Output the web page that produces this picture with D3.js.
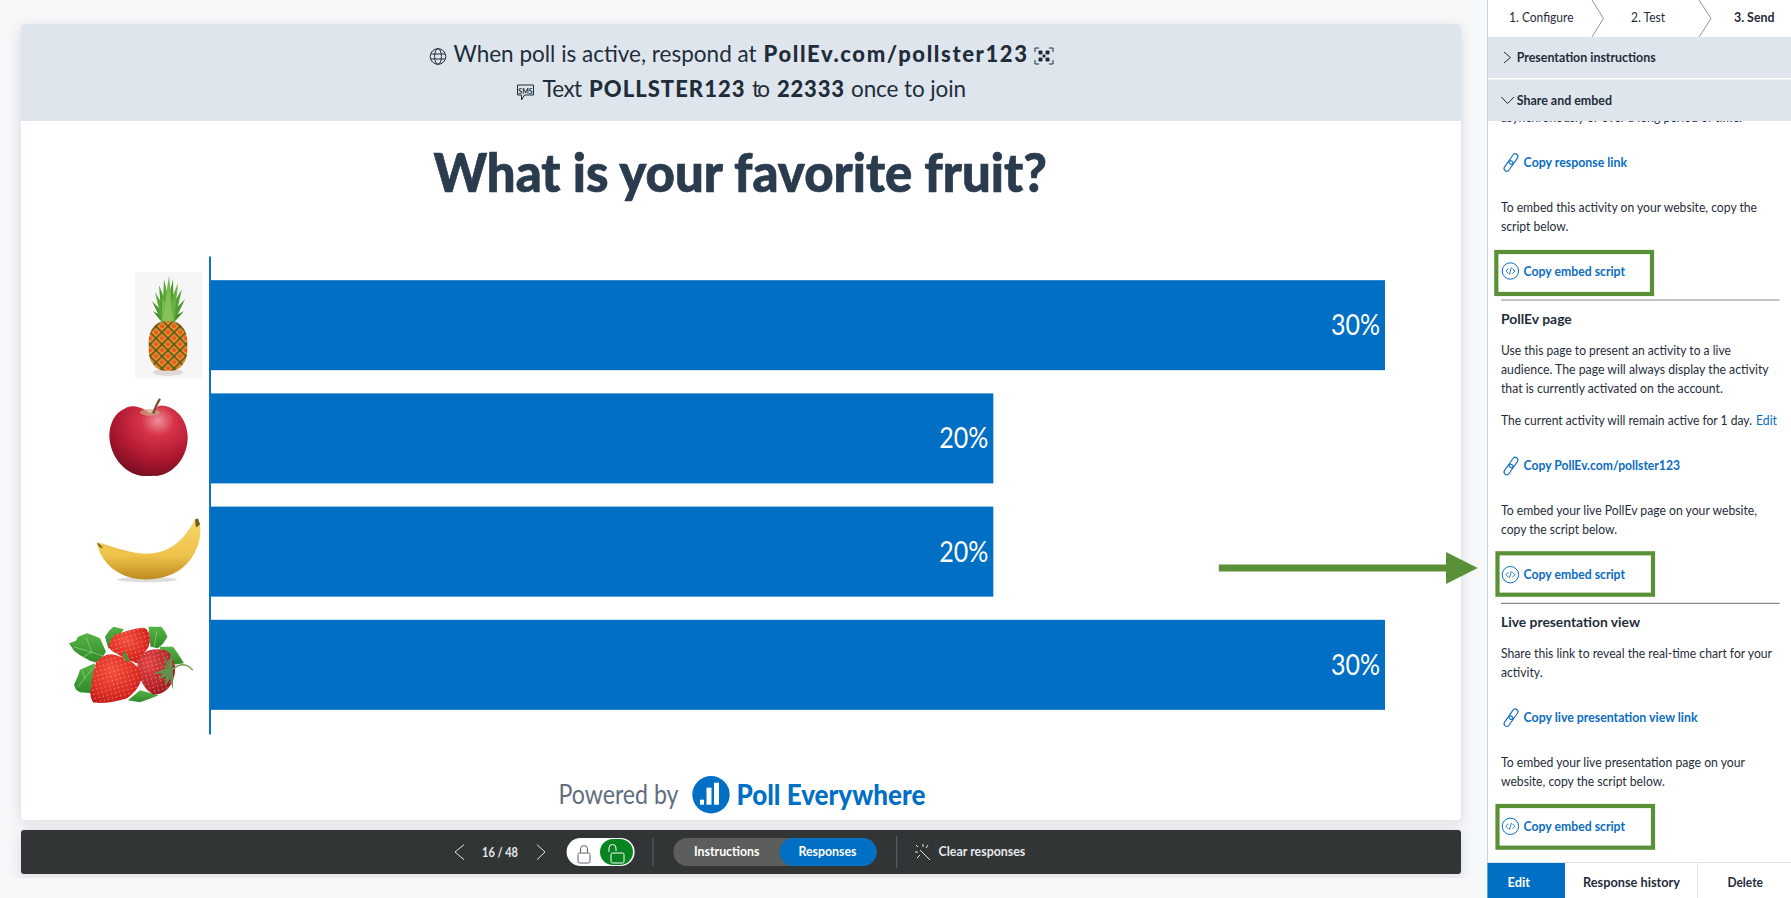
<!DOCTYPE html>
<html>
<head>
<meta charset="utf-8">
<title>What is your favorite fruit?</title>
<script src="https://cdn.jsdelivr.net/npm/d3@7/dist/d3.min.js"></script>
<style>
html,body{margin:0;padding:0;background:#f7f8fa;overflow:hidden}
svg{display:block}
text{font-family:Lato,"Noto Sans",sans-serif}
</style>
</head>
<body>
<div id="chart"></div>
<script>
const categories = ["Pineapple", "Apple", "Banana", "Strawberry"];
const values = [30, 20, 20, 30];
const valueLabels = ["30%", "20%", "20%", "30%"];
const question = "What is your favorite fruit?";

const BLUE = "#006fc4", GREEN = "#5a9136", INK = "#1f2d3b", PANEL = "#dee5ec", LINK = "#0a6dc2";

const svg = d3.select("#chart").append("svg").attr("width", 1791).attr("height", 898).attr("viewBox", "0 0 1791 898");
const defs = svg.append("defs");

const shadow = defs.append("filter").attr("id", "shadow").attr("x", "-3%").attr("y", "-5%").attr("width", "106%").attr("height", "112%");
shadow.append("feDropShadow").attr("dx", 0).attr("dy", 4).attr("stdDeviation", 7).attr("flood-color", "#2a3b4e").attr("flood-opacity", 0.13);

function grad(id, stops, r) {
  const g = r ? defs.append("radialGradient").attr("id", id).attr("cx", r[0]).attr("cy", r[1]).attr("r", r[2])
              : defs.append("linearGradient").attr("id", id).attr("x1", 0).attr("y1", 0).attr("x2", 0).attr("y2", 1);
  stops.forEach(s => g.append("stop").attr("offset", s[0]).attr("stop-color", s[1]));
}
grad("appleG", [[0, "#ee8f9a"], [0.25, "#d63348"], [0.65, "#ad1730"], [1, "#6e0c1f"]], [0.62, 0.22, 0.85]);
grad("bananaG", [[0, "#f5d766"], [0.6, "#eec24b"], [1, "#bd8a20"]]);
grad("berryG", [[0, "#f4503f"], [0.6, "#dd2a26"], [1, "#b2161c"]], [0.42, 0.35, 0.8]);
grad("berryD", [[0, "#e2454a"], [0.6, "#b8232c"], [1, "#8c1420"]], [0.3, 0.3, 0.9]);
grad("leafG", [[0, "#57b345"], [1, "#2f8a2a"]]);

const pine = defs.append("pattern").attr("id", "pinePat").attr("width", 8.5).attr("height", 8.5).attr("patternUnits", "userSpaceOnUse").attr("patternTransform", "rotate(45)");
pine.append("rect").attr("width", 8.5).attr("height", 8.5).attr("fill", "#ec8a24");
pine.append("rect").attr("width", 1.5).attr("height", 8.5).attr("fill", "#4f5a1e");
pine.append("rect").attr("width", 8.5).attr("height", 1.5).attr("fill", "#4f5a1e");
pine.append("circle").attr("cx", 5).attr("cy", 5).attr("r", 1.9).attr("fill", "#e2552a");

const seeds = defs.append("pattern").attr("id", "seeds").attr("width", 6).attr("height", 6).attr("patternUnits", "userSpaceOnUse").attr("patternTransform", "rotate(30)");
seeds.append("circle").attr("cx", 1.5).attr("cy", 1.5).attr("r", 0.65).attr("fill", "#f2c46a");
seeds.append("circle").attr("cx", 4.5).attr("cy", 4.5).attr("r", 0.65).attr("fill", "#f2c46a");

function T(x0, x1, y, str, o = {}) {
  return (o.g || svg).append("text").attr("x", x0).attr("y", y)
    .attr("textLength", x1 - x0).attr("lengthAdjust", o.adjust || "spacingAndGlyphs")
    .attr("font-size", o.size || 13).attr("font-weight", o.weight || 400)
    .attr("fill", o.fill || INK).text(str);
}
function chevron(pts, c = INK, w = 1) {
  svg.append("polyline").attr("points", pts.map(p => p.join(",")).join(" "))
    .attr("fill", "none").attr("stroke", c).attr("stroke-width", w);
}

/* ---------- card ---------- */
svg.append("rect").attr("x", 21).attr("y", 24).attr("width", 1440).attr("height", 796).attr("rx", 4).attr("fill", "#fff").attr("filter", "url(#shadow)");
svg.append("path").attr("d", "M21,121V28a4,4 0 0 1 4,-4H1457a4,4 0 0 1 4,4V121Z").attr("fill", PANEL);

/* header lines */
const H = {size: 22.5, adjust: "spacing"}, HB = {size: 22, weight: 900, adjust: "spacing"};
T(453.5, 756.6, 62, "When poll is active, respond at", H);
T(763.5, 1027, 62, "PollEv.com/pollster123", HB);
T(542.5, 582, 97, "Text", H);
T(589, 744.5, 97, "POLLSTER123", HB);
T(752, 770, 97, "to", H);
T(777, 844, 97, "22333", HB);
T(851, 966, 97, "once to join", H);

/* globe icon */
const globe = svg.append("g").attr("transform", "translate(438,56.5)").attr("fill", "none").attr("stroke", INK).attr("stroke-width", 1);
globe.append("circle").attr("r", 7.8);
globe.append("ellipse").attr("rx", 3.4).attr("ry", 7.8);
globe.append("path").attr("d", "M-7,-2.5H7M-7,2.5H7");
/* QR icon */
const qr = svg.append("g").attr("transform", "translate(1044,56)").attr("fill", "none").attr("stroke", INK).attr("stroke-width", 1);
qr.append("path").attr("d", "M-9,-4V-8H-5M5,-8H9V-4M9,4V8H5M-5,8H-9V4");
qr.append("path").attr("d", "M-5,-5h3v3h-3zM2,-5h3v3h-3zM-5,2h3v3h-3zM2,2h3v3h-3zM-1,-1h2v2h-2z").attr("fill", INK);
/* SMS icon */
const sms = svg.append("g").attr("transform", "translate(525.5,91)").attr("fill", "none").attr("stroke", INK).attr("stroke-width", 1);
sms.append("path").attr("d", "M-8,-6H8V4H-1L-4,9V4H-8Z");
sms.append("text").attr("x", 0).attr("y", 2.5).attr("text-anchor", "middle").attr("font-size", 7).attr("font-weight", 700).attr("fill", INK).attr("stroke", "none").text("SMS");

/* title */
T(433.4, 1047, 191.7, question, {size: 53, weight: 900, fill: "#2a3b4e"}).attr("stroke", "#2a3b4e").attr("stroke-width", 0.7);

/* ---------- chart ---------- */
const x = d3.scaleLinear().domain([0, 30]).range([210, 1385]);
const y = d3.scaleBand().domain(categories).range([256, 734]).paddingInner(0.205).paddingOuter(0.2135);

svg.append("g").selectAll("rect").data(categories).join("rect")
  .attr("x", x(0)).attr("y", d => y(d))
  .attr("width", (d, i) => x(values[i]) - x(0)).attr("height", y.bandwidth()).attr("fill", BLUE);

const axis = svg.append("g").attr("transform", "translate(209.5,0)").call(d3.axisLeft(y).tickSize(0).tickFormat(""));
axis.select(".domain").attr("stroke", "#0a74c9").attr("stroke-width", 2);

svg.append("g").selectAll("text").data(categories).join("text")
  .attr("x", (d, i) => x(values[i]) - 5)
  .attr("y", d => y(d) + y.bandwidth() / 2 + 10)
  .attr("text-anchor", "end").attr("font-size", 28).attr("fill", "#fff")
  .attr("textLength", 49).attr("lengthAdjust", "spacingAndGlyphs")
  .text((d, i) => valueLabels[i]);

/* ---------- fruit pictures ---------- */
const center = d => y(d) + y.bandwidth() / 2;

// pineapple
const pa = svg.append("g").attr("transform", `translate(168,${center("Pineapple")})`);
pa.append("rect").attr("x", -33).attr("y", -53.3).attr("width", 67).attr("height", 107).attr("fill", "#f6f6f6");
pa.append("ellipse").attr("cx", 0).attr("cy", 47).attr("rx", 15).attr("ry", 3.5).attr("fill", "#dfd8d4");
const crownTips = [[-15, -14, "#3c8a2a"], [16, -14, "#3c8a2a"], [-16, -24, "#4d9a32"], [17, -26, "#4d9a32"], [-13, -33, "#5ba63a"], [14, -36, "#549f36"],
  [-9, -40, "#4c9a30"], [10, -42, "#66ae42"], [-4, -46, "#5aa63a"], [5, -46, "#4f9c32"], [1, -49.5, "#7abb4e"], [-6, -28, "#74b84c"], [7, -30, "#6cb146"], [0, -34, "#83c258"]];
crownTips.forEach(t => pa.append("path").attr("d", `M-6,-3L${t[0]},${t[1]}L6,-3Z`).attr("fill", t[2]));
pa.append("rect").attr("x", -19.3).attr("y", -4).attr("width", 38.6).attr("height", 49.5).attr("rx", 16).attr("ry", 20).attr("fill", "url(#pinePat)");

// apple
const ap = svg.append("g").attr("transform", `translate(149,${center("Apple")})`);
ap.append("path").attr("d", "M1,-25C-8,-32 -18,-34 -24,-30C-38,-24 -40,-8 -39.5,0C-38,20 -22,37 -5,37.5C0,38 3,37 7,37.5C25,36 39,18 38.7,-2C38,-22 24,-33 12,-33C8,-33 5,-28 1,-25Z").attr("fill", "url(#appleG)");
ap.append("ellipse").attr("cx", 1).attr("cy", -26).attr("rx", 10).attr("ry", 3.5).attr("fill", "#c9a27a").attr("opacity", 0.7);
ap.append("path").attr("d", "M4.3,-25C6,-30 8,-35 11,-39.5").attr("fill", "none").attr("stroke", "#6f4a30").attr("stroke-width", 2.2);

// banana
const ba = svg.append("g").attr("transform", `translate(148,${center("Banana")})`);
ba.append("ellipse").attr("cx", -1).attr("cy", 28).attr("rx", 30).attr("ry", 2.6).attr("fill", "#cfcfcf").attr("opacity", 0.7);
ba.append("path").attr("d", "M-51,-9C-40,-8 -20,3 1,2C25,1 38,-15 47,-32L50,-33L52,-27C55,-5 40,28 -2,28C-30,28 -48,10 -51,-9Z").attr("fill", "url(#bananaG)");
ba.append("path").attr("d", "M-51,-9C-50,-6 -48,-3 -45,-4C-47,-6 -49,-8 -51,-9ZM47,-32L50,-33L52,-27L48,-24Z").attr("fill", "#6e5a1e");

// strawberries
const st = svg.append("g").attr("transform", `translate(130,${center("Strawberry")})`);
const leafPaths = [
  "M-61,-21.5L-54,-24L-52,-28L-43,-31.5L-36,-29L-30,-26.5L-24,-13L-31.5,-1.5L-40,-4L-50,-9.5L-56,-14Z",
  "M-35,-1.5L-50,5L-52,11L-56,20L-54,25L-50,27.5L-38,28.5Z",
  "M-25,-28L-21,-34L-16.5,-38L-6,-35.5L-21.5,-16Z",
  "M18.5,-38L31.5,-38L35,-33L37.5,-28L33,-21L28,-16.5L20.5,-18Z",
  "M30,-18L43,-18L48,-11L54,-1.5L43,0L30,-4Z",
  "M-2,35.5L10,25.5L28.5,30.5L20,34L10,37.5Z"];
leafPaths.forEach(d => st.append("path").attr("d", d).attr("fill", "url(#leafG)"));
["M-56,-18L-27,-9M-44,-28L-38,-12M-48,-7L-38,-13", "M-37,3L-52,22M-48,5L-45,14", "M27,-34L24,-18"].forEach(d =>
  st.append("path").attr("d", d).attr("fill", "none").attr("stroke", "#a8d88c").attr("stroke-width", 0.6));
const berries = [
  ["M-21.7,-18C-20,-24 -18,-28 -15,-30C-6,-33 6,-37 13.3,-37C18,-36 20,-31 20,-26C20,-20 18,-16 15,-13C12,-8 10,-4 6.7,-1.5C0,-4 -8,-8 -13,-11C-17,-13 -20,-15 -21.7,-18Z", "url(#berryG)"],
  ["M7.3,-3C10,-9 14,-13 20,-14.7C26,-16 33,-16 38,-13C43,-8 46,0 45,7C44,15 41,21 36.7,25C32,29 27,30 23.3,29.6C18,27 14,22 11.7,17C9,11 7,4 7.3,-3Z", "url(#berryD)"],
  ["M-20,-10.5C-12,-10 -2,-6 4,-1C9,3 12,8 11.7,12C11,20 5,28 -3.3,33.6C-14,37 -28,39 -36.7,37.6C-40,33 -40,28 -39,23.6C-38,14 -37,5 -33.3,-3C-30,-7 -25,-10 -20,-10.5Z", "url(#berryG)"]];
berries.forEach(b => {
  st.append("path").attr("d", b[0]).attr("fill", b[1]);
  st.append("path").attr("d", b[0]).attr("fill", "url(#seeds)").attr("opacity", 0.75);
});
st.append("path").attr("d", "M40,7C44,3 48,0 52,0C56,0 60,2 62.7,5.3").attr("fill", "none").attr("stroke", "#7a9a52").attr("stroke-width", 1.5);
[[33, -13], [41.7, -13], [25, -4.7], [23, 8.6], [28, 15.3], [35, 22], [43, 25]].forEach(t =>
  st.append("path").attr("d", `M37,3L${t[0]},${t[1]}L43,9Z`).attr("fill", "#5f9150"));
st.append("path").attr("d", "M-7,-10L-4,-3L0,-4L-5,-14Z").attr("fill", "#4c9338");

/* powered by */
T(558.5, 678.5, 804, "Powered by", {size: 26, fill: "#5f6d7e"});
const logo = svg.append("g").attr("transform", "translate(711,794.7)");
logo.append("circle").attr("r", 18.7).attr("fill", BLUE);
logo.append("rect").attr("x", -11).attr("y", 5).attr("width", 4).attr("height", 5).attr("fill", "#fff");
logo.append("rect").attr("x", -4.5).attr("y", -7).attr("width", 5).attr("height", 17).attr("fill", "#fff");
logo.append("rect").attr("x", 3).attr("y", -12).attr("width", 5).attr("height", 22).attr("fill", "#fff");
T(736.5, 925.4, 804.7, "Poll Everywhere", {size: 29, weight: 900, fill: BLUE});

/* ---------- toolbar ---------- */
svg.append("rect").attr("x", 21).attr("y", 830).attr("width", 1440).attr("height", 44).attr("rx", 3).attr("fill", "#323434").attr("filter", "url(#shadow)");
chevron([[464, 844.7], [455, 852], [464, 859.7]], "#dfe3e6");
chevron([[537, 844.7], [545, 852], [537, 859.7]], "#dfe3e6");
T(482, 518, 857, "16 / 48", {size: 13.5, weight: 700, fill: "#e6e8ea"});
svg.append("rect").attr("x", 566.6).attr("y", 838).attr("width", 68).attr("height", 28).attr("rx", 14).attr("fill", "#fff");
svg.append("rect").attr("x", 600).attr("y", 839).attr("width", 33).attr("height", 26).attr("rx", 13).attr("fill", "#07841f");
svg.append("rect").attr("x", 578).attr("y", 853).attr("width", 12).attr("height", 10).attr("rx", 1.5).attr("fill", "none").attr("stroke", "#5a6470");
svg.append("path").attr("d", "M580.5,853V849a3.5,3.5 0 0 1 7,0V853").attr("fill", "none").attr("stroke", "#5a6470");
svg.append("rect").attr("x", 611).attr("y", 853).attr("width", 13).attr("height", 10).attr("rx", 1.5).attr("fill", "none").attr("stroke", "#fff");
svg.append("path").attr("d", "M609,852V848a3.5,3.5 0 0 1 7,0V851").attr("fill", "none").attr("stroke", "#fff");
svg.append("line").attr("x1", 653).attr("x2", 653).attr("y1", 838).attr("y2", 866).attr("stroke", "#59636d");
svg.append("rect").attr("x", 673.4).attr("y", 838).attr("width", 203.2).attr("height", 28).attr("rx", 14).attr("fill", "#5c5e5e");
svg.append("rect").attr("x", 779.6).attr("y", 838).attr("width", 97).attr("height", 28).attr("rx", 14).attr("fill", BLUE);
T(694, 759.5, 856, "Instructions", {size: 13.5, weight: 700, fill: "#fff"});
T(798.5, 856.5, 856, "Responses", {size: 13.5, weight: 700, fill: "#fff"});
svg.append("line").attr("x1", 896.7).attr("x2", 896.7).attr("y1", 836).attr("y2", 868).attr("stroke", "#59636d");
const clr = svg.append("g").attr("transform", "translate(923,852)").attr("stroke", "#e6e8ea").attr("fill", "none");
clr.append("path").attr("d", "M-3,-2L7,8M-7,-7L-5,-5M0,-8L0,-5M5,-7L3,-4M-8,0L-5,0M-6,6L-3,3");
T(938.6, 1025.3, 856.3, "Clear responses", {size: 13.5, weight: 700, fill: "#e6e8ea"});

/* arrow */
svg.append("rect").attr("x", 1218.8).attr("y", 564.5).attr("width", 228).attr("height", 7).attr("fill", GREEN);
svg.append("path").attr("d", "M1446,552L1477.7,568L1446,584Z").attr("fill", GREEN);

/* ---------- right panel ---------- */
svg.append("rect").attr("x", 1487.5).attr("y", 0).attr("width", 304).attr("height", 898).attr("fill", "#fff");
svg.append("line").attr("x1", 1487.5).attr("x2", 1487.5).attr("y1", 0).attr("y2", 898).attr("stroke", "#c9d5e0");

const bodyLines = [
  [1501, 1742, 121.5, "asynchronously or over a long period of time."],
  [1501, 1757, 212, "To embed this activity on your website, copy the"],
  [1501, 1568.4, 230.7, "script below."],
  [1501, 1730.8, 355, "Use this page to present an activity to a live"],
  [1501, 1768.7, 374, "audience. The page will always display the activity"],
  [1501, 1722.8, 393, "that is currently activated on the account."],
  [1501, 1752, 425, "The current activity will remain active for 1 day."],
  [1501, 1757, 515, "To embed your live PollEv page on your website,"],
  [1501, 1617, 534, "copy the script below."],
  [1501, 1772, 658, "Share this link to reveal the real-time chart for your"],
  [1501, 1542.5, 677, "activity."],
  [1501, 1745, 767, "To embed your live presentation page on your"],
  [1501, 1664.8, 786, "website, copy the script below."]
];
bodyLines.forEach(l => T(l[0], l[1], l[2], l[3], {size: 13.6}));
T(1756, 1777, 425, "Edit", {size: 13.6, fill: LINK});
T(1501, 1571.8, 324, "PollEv page", {size: 14, weight: 700});
T(1501, 1640, 626.7, "Live presentation view", {size: 14, weight: 700});

/* step bar and accordion rows cover the scrolled text */
svg.append("rect").attr("x", 1488).attr("y", 0).attr("width", 303).attr("height", 37).attr("fill", "#fff");
T(1509, 1573.5, 21.7, "1. Configure", {size: 13});
T(1631, 1665, 21.7, "2. Test", {size: 13});
T(1734, 1774.5, 21.7, "3. Send", {size: 13, weight: 700});
chevron([[1592, 0], [1603.4, 18.5], [1592, 37]], "#8a96a3");
chevron([[1699, 0], [1711, 18.5], [1699, 37]], "#8a96a3");
svg.append("rect").attr("x", 1488).attr("y", 37).attr("width", 303).attr("height", 41).attr("fill", PANEL);
svg.append("rect").attr("x", 1488).attr("y", 79.5).attr("width", 303).attr("height", 41.5).attr("fill", PANEL);
T(1516.7, 1655.6, 62, "Presentation instructions", {size: 13.4, weight: 700});
T(1516.7, 1612, 105, "Share and embed", {size: 13.4, weight: 700});
chevron([[1504, 52], [1510.4, 57.5], [1504, 63]]);
chevron([[1501.5, 97], [1507.5, 103.6], [1514, 97]]);

function linkIcon(cy) {
  const g = svg.append("g").attr("transform", `translate(1511,${cy}) rotate(-55)`).attr("fill", "none").attr("stroke", LINK).attr("stroke-width", 1.1);
  g.append("rect").attr("x", -10).attr("y", -2.7).attr("width", 11.5).attr("height", 5.4).attr("rx", 2.7);
  g.append("rect").attr("x", -1.5).attr("y", -2.7).attr("width", 11.5).attr("height", 5.4).attr("rx", 2.7);
}
function codeBox(boxTop, boxBottom, x0, x1, cy, base) {
  svg.append("rect").attr("x", x0 + 2).attr("y", boxTop + 2).attr("width", x1 - x0 - 4).attr("height", boxBottom - boxTop - 4)
    .attr("fill", "none").attr("stroke", GREEN).attr("stroke-width", 4.2);
  const g = svg.append("g").attr("transform", `translate(1510.4,${cy})`).attr("fill", "none").attr("stroke", LINK);
  g.append("circle").attr("r", 8.2);
  g.append("path").attr("d", "M-2,-2.5L-4.5,0L-2,2.5M2,-2.5L4.5,0L2,2.5M1,-3.5L-1,3.5").attr("stroke-width", 0.9);
  T(1523.6, 1625, base, "Copy embed script", {size: 13.4, weight: 700, fill: LINK});
}
const linkRows = [[162.5, 166.7, 1627, "Copy response link"], [466, 470, 1680, "Copy PollEv.com/pollster123"], [717.7, 722, 1697.5, "Copy live presentation view link"]];
linkRows.forEach(r => { linkIcon(r[0]); T(1523.6, r[2], r[1], r[3], {size: 13.4, weight: 700, fill: LINK}); });
codeBox(250, 296, 1494.3, 1654, 271, 275.7);
codeBox(551.3, 596.7, 1495.5, 1655, 574.7, 578.7);
codeBox(804, 849.7, 1495.5, 1655, 826.3, 830.7);
[300, 603.3].forEach(v => svg.append("line").attr("x1", 1501).attr("x2", 1779.6).attr("y1", v).attr("y2", v).attr("stroke", "#8a8a8a").attr("stroke-width", 1.2));

/* bottom tabs */
svg.append("line").attr("x1", 1488).attr("x2", 1791).attr("y1", 862.5).attr("y2", 862.5).attr("stroke", "#dde4ea");
svg.append("rect").attr("x", 1487.5).attr("y", 863).attr("width", 77.5).attr("height", 35).attr("fill", BLUE);
svg.append("line").attr("x1", 1697.5).attr("x2", 1697.5).attr("y1", 863).attr("y2", 898).attr("stroke", "#dde4ea");
T(1507.5, 1530, 886.7, "Edit", {size: 13.4, weight: 700, fill: "#fff"});
T(1583, 1680, 886.7, "Response history", {size: 13.4, weight: 700});
T(1727.4, 1763, 886.7, "Delete", {size: 13.4, weight: 700});
</script>
</body>
</html>
